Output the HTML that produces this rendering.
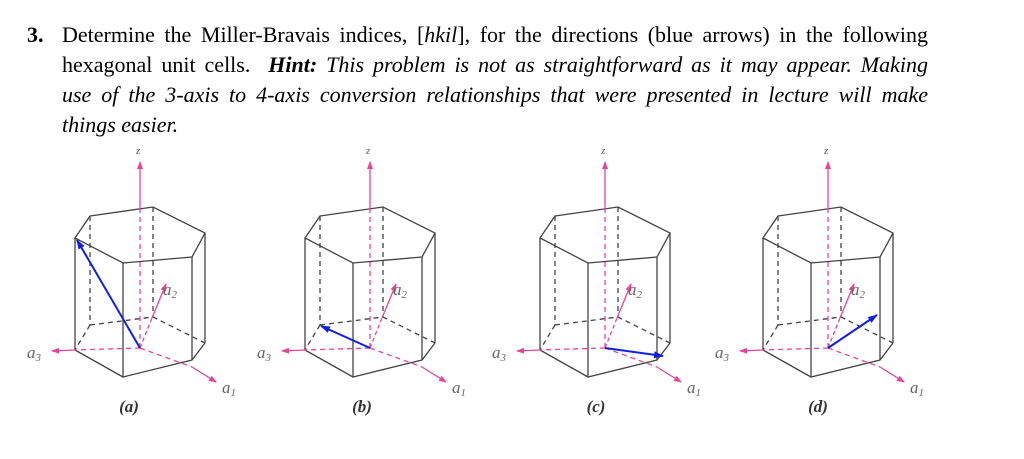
<!DOCTYPE html><html><head><style>
body{margin:0;width:1024px;height:459px;background:#fff;overflow:hidden;position:relative;font-family:"Liberation Serif",serif}
.t{position:absolute;left:62px;top:20px;width:866px;font-size:22px;line-height:30px;color:#000}
.t div{text-align:justify;text-align-last:justify;white-space:nowrap}
.t div.l{text-align-last:left}
.n{position:absolute;left:27px;top:20px;font-size:22px;line-height:30px;font-weight:bold}
svg{position:absolute;left:0;top:0}
</style></head><body>
<div class="n">3.</div>
<div class="t">
<div style="white-space:normal">Determine the Miller-Bravais indices, [<i>hkil</i>], for the directions (blue arrows) in the following</div>
<div style="white-space:normal">hexagonal unit cells. &nbsp;<b><i>Hint:</i></b> <i>This problem is not as straightforward as it may appear. Making</i></div>
<div style="white-space:normal"><i>use of the 3-axis to 4-axis conversion relationships that were presented in lecture will make</i></div>
<div class="l"><i>things easier.</i></div>
</div>
<svg width="1024" height="459" viewBox="0 0 1024 459">
<defs>
<marker id="p" markerWidth="8" markerHeight="8" refX="7" refY="4" orient="auto" markerUnits="userSpaceOnUse"><path d="M0,1 L8,4 L0,7 Z" fill="#e8449a"/></marker>
<marker id="b" markerWidth="10" markerHeight="8" refX="9" refY="4" orient="auto" markerUnits="userSpaceOnUse"><path d="M0,0.5 L10,4 L0,7.5 Z" fill="#1020e0"/></marker>
<g id="cell">
<g fill="none" stroke="#444" stroke-width="1.3">
<polygon points="90,216 153,207 205,233 192,257 123,263 75,238"/>
<path d="M75,238V350M123,263V377M192,257V360M205,233V343M75,350L123,377L192,360L205,343"/>
<path d="M90,216V325M153,207V317M90,325L153,317L205,343M90,325L75,350" stroke-dasharray="5,4"/>
</g>
<g stroke="#e8449a" stroke-width="1.3" fill="none">
<path d="M140,348V212" stroke-dasharray="5,4"/>
<path d="M140,212V162" marker-end="url(#p)"/>
<path d="M140,348L75,350" stroke-dasharray="5,4"/>
<path d="M75,350L52,351" marker-end="url(#p)"/>
<path d="M140,348L192,367" stroke-dasharray="5,4"/>
<path d="M192,367L216,382" marker-end="url(#p)"/>
<path d="M140,348L152,318" stroke-dasharray="4,3"/>
<path d="M152,318L166,284" marker-end="url(#p)"/>
</g>
<g font-family="Liberation Serif,serif" font-style="italic" fill="#666">
<text x="136" y="154" font-size="11">z</text>
<text x="27" y="358" font-size="17">a<tspan font-size="11" dy="3">3</tspan></text>
<text x="222" y="393" font-size="17">a<tspan font-size="11" dy="3">1</tspan></text>
<text x="163" y="295" font-size="17">a<tspan font-size="11" dy="3">2</tspan></text>
</g>
</g>
</defs>
<use href="#cell"/>
<use href="#cell" transform="translate(230,0)"/>
<use href="#cell" transform="translate(465,0)"/>
<use href="#cell" transform="translate(688,0)"/>
<g stroke="#1020e0" stroke-width="2" marker-end="url(#b)">
<line x1="140" y1="348" x2="77" y2="240"/>
<line x1="370" y1="348" x2="321" y2="326"/>
<line x1="605" y1="348" x2="663" y2="356"/>
<line x1="828" y1="348" x2="877" y2="315"/>
</g>
<g font-family="Liberation Serif,serif" font-style="italic" font-weight="bold" font-size="17" fill="#333" text-anchor="middle">
<text x="129" y="412">(a)</text><text x="362" y="412">(b)</text><text x="596" y="412">(c)</text><text x="818" y="412">(d)</text>
</g>
</svg>
</body></html>
